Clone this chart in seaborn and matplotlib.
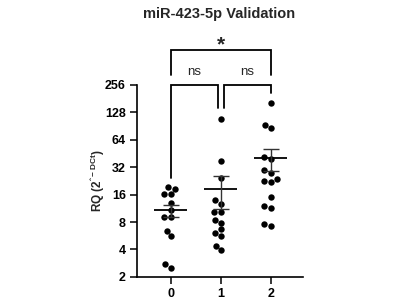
import numpy as np
import pandas as pd
import matplotlib
matplotlib.use("Agg")
import matplotlib.pyplot as plt
import seaborn as sns

# RQ values, one list per group
grp_0 = [19.5, 18.4, 16.1, 16.1, 13.0, 10.8, 9.0, 9.0, 6.35, 5.6, 2.74, 2.51]
grp_1 = [108, 37.6, 24.5, 12.5, 13.8, 10.35, 10.35, 7.84, 8.33, 6.64, 5.6, 6.0, 4.38, 3.93]
grp_2 = [162, 85.4, 92.8, 39.3, 41.0, 29.7, 27.8, 22.7, 21.8, 23.5, 14.9, 11.5, 12.0, 7.2, 7.7]

groups = ["0", "1", "2"]
y_ticks = [2, 4, 8, 16, 32, 64, 128, 256]

# significance brackets: (left group, right group, label)
comparisons = [(0, 1, "ns"), (1, 2, "ns"), (0, 2, "*")]

df = pd.DataFrame({
    "group": ["0"] * len(grp_0) + ["1"] * len(grp_1) + ["2"] * len(grp_2),
    "rq": grp_0 + grp_1 + grp_2,
})

sns.set_style("ticks")
plt.rcParams["font.family"] = ["Liberation Sans", "DejaVu Sans"]
plt.rcParams["mathtext.fontset"] = "custom"
plt.rcParams["mathtext.rm"] = "Liberation Sans:bold"
plt.rcParams["mathtext.bf"] = "Liberation Sans:bold"

fig = plt.figure(figsize=(4, 3), dpi=100)
ax = fig.add_axes([0.3425, 0.077, 0.415, 0.64])

sns.swarmplot(data=df, x="group", y="rq", order=groups, color="black",
              size=4.6, log_scale=2, ax=ax, zorder=3)

# mean +/- SEM
stats = df.groupby("group")["rq"].agg(["mean", "sem"]).reindex(groups)
for i, g in enumerate(groups):
    m = stats.loc[g, "mean"]
    s = stats.loc[g, "sem"]
    ax.hlines(m, i - 0.33, i + 0.33, color="black", lw=1.3, zorder=4)
    ax.errorbar(i, m, yerr=s, color="#333333", lw=1.0, capsize=6,
                capthick=1.0, zorder=4)

ax.set_yscale("log", base=2)
ax.set_ylim(2, 256)
ax.set_yticks(y_ticks)
ax.set_yticklabels([str(t) for t in y_ticks])
ax.minorticks_off()
ax.set_xlim(-0.68, 2.65)
ax.set_xlabel("")
ax.set_ylabel(r"RQ (2$^{\mathrm{ˆ-DCt}}$)", fontsize=8.5, fontweight="bold")
ax.yaxis.set_label_coords(-0.18, 0.5)

for lab in ax.get_xticklabels() + ax.get_yticklabels():
    lab.set_fontweight("bold")
ax.tick_params(axis="both", labelsize=9, width=1.1, length=5, pad=3, colors="black")
sns.despine(ax=ax)
for sp in ["left", "bottom"]:
    ax.spines[sp].set_linewidth(1.2)
    ax.spines[sp].set_color("black")

# brackets (heights in data units on the log2 axis)
leg_low = {(0, 1): (24.3, 143), (1, 2): (143, 208), (0, 2): (329, 329)}
bar_y = {(0, 1): 256, (1, 2): 256, (0, 2): 617}
xoff = {(0, 1): (0, -0.06), (1, 2): (0.06, 0), (0, 2): (0, 0)}
for a, b, lab in comparisons:
    x0 = a + xoff[(a, b)][0]
    x1 = b + xoff[(a, b)][1]
    yl, yr = leg_low[(a, b)]
    yt = bar_y[(a, b)]
    ax.plot([x0, x0, x1, x1], [yl, yt, yt, yr], color="black", lw=1.3,
            clip_on=False, solid_joinstyle="miter")
    if lab == "*":
        ax.text((a + b) / 2, 2 ** 9.45, lab, ha="center", va="center",
                fontsize=15, fontweight="bold")
    else:
        ax.text((x0 + x1) / 2, 2 ** 8.47, lab, ha="center", va="center",
                fontsize=9.5)

fig.text(0.5475, 0.953, "miR-423-5p Validation", ha="center", va="center",
         fontsize=10.5, fontweight="bold")

fig.savefig("out.png", dpi=100)
